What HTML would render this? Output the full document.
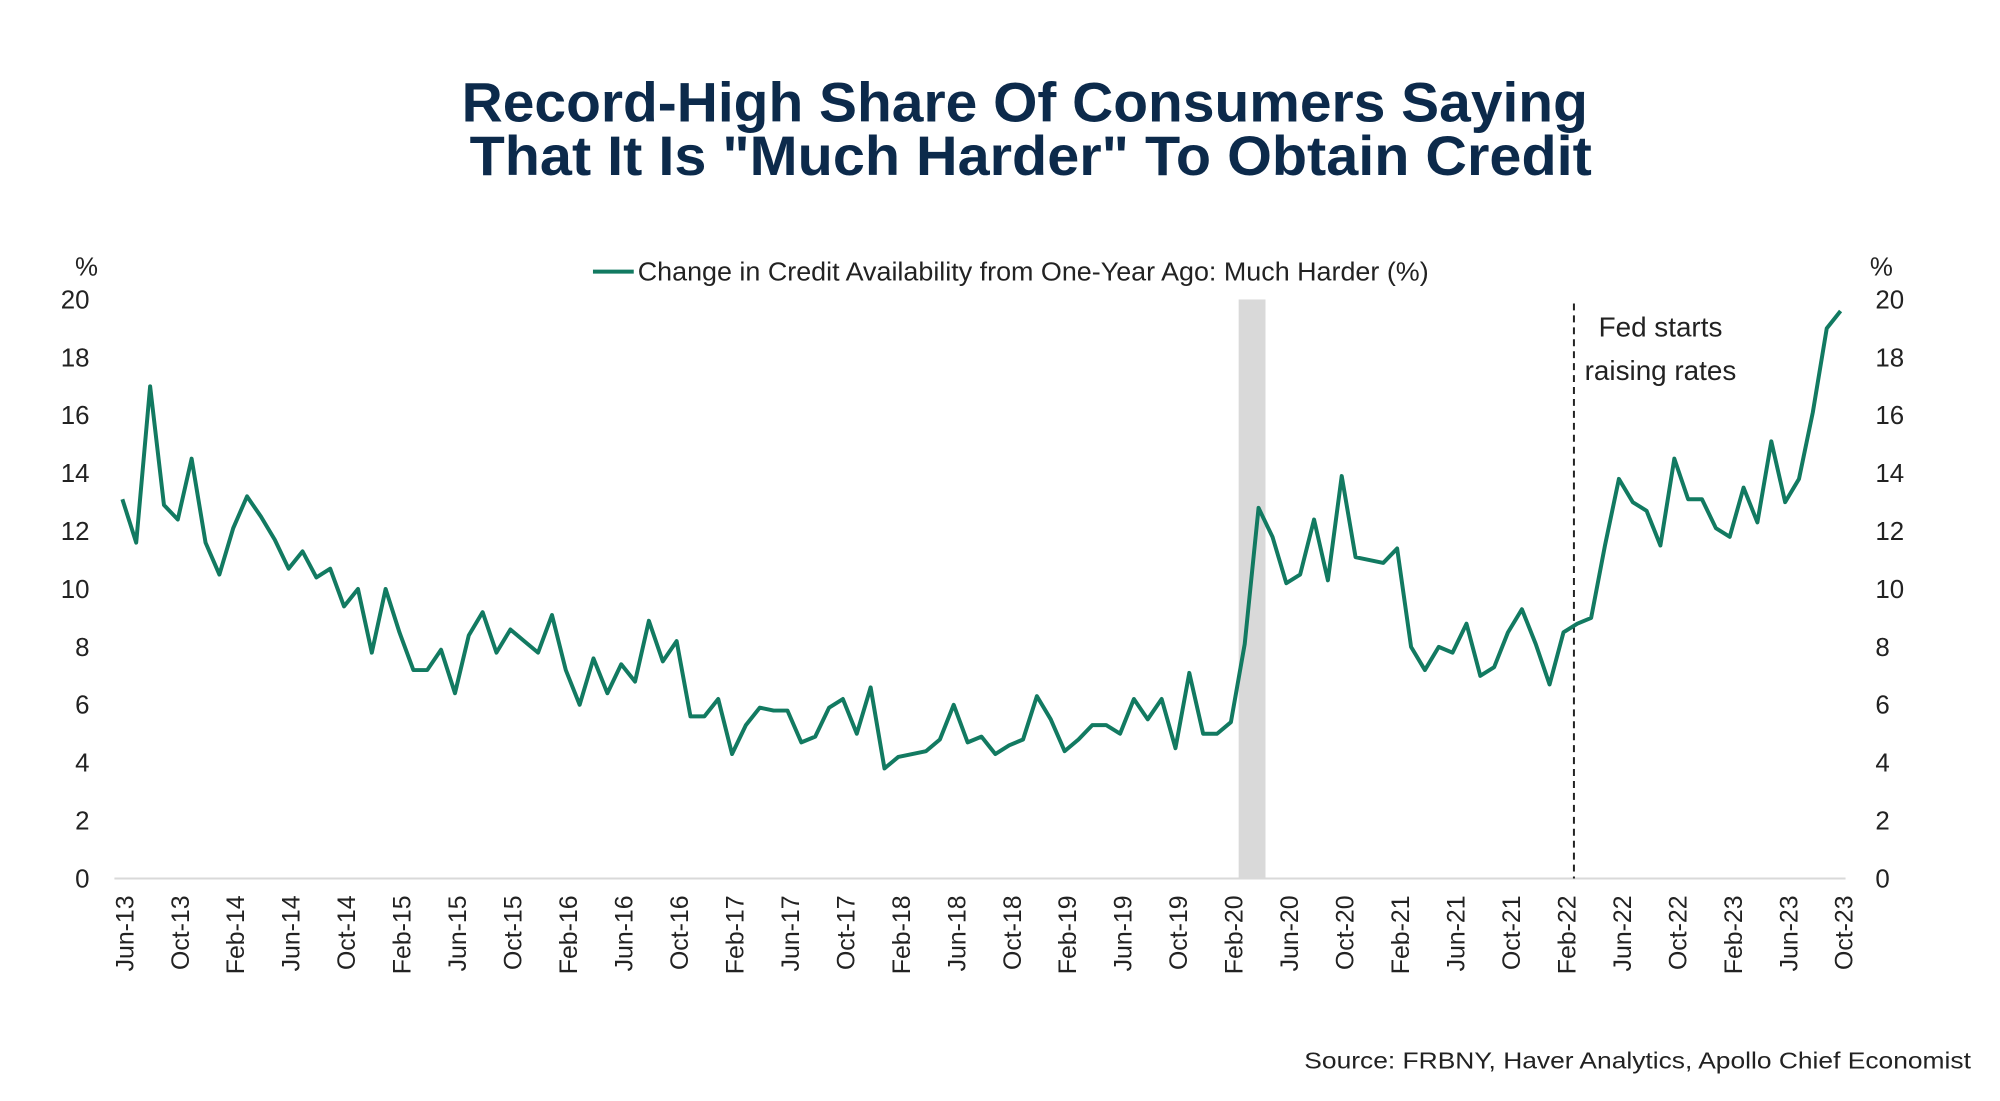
<!DOCTYPE html>
<html><head><meta charset="utf-8"><style>
html,body{margin:0;padding:0;background:#fff;}
svg{display:block;}
</style></head><body>
<svg width="2000" height="1101" viewBox="0 0 2000 1101" xmlns="http://www.w3.org/2000/svg" font-family="'Liberation Sans', sans-serif">
<g id="root" transform="scale(0.9949)">
<text x="464" y="122" font-size="56" font-weight="bold" fill="#0c2a4b" textLength="1132" lengthAdjust="spacingAndGlyphs">Record-High Share Of Consumers Saying</text>
<text x="472" y="176" font-size="56" font-weight="bold" fill="#0c2a4b" textLength="1128" lengthAdjust="spacingAndGlyphs">That It Is "Much Harder" To Obtain Credit</text>

<line x1="596" y1="273" x2="637" y2="273" stroke="#127a61" stroke-width="4"/>
<text x="641" y="282" font-size="26" fill="#222" textLength="795" lengthAdjust="spacingAndGlyphs">Change in Credit Availability from One-Year Ago: Much Harder (%)</text>

<rect x="1245" y="301" width="27" height="582" fill="#d9d9d9"/>
<line x1="115" y1="883" x2="1855" y2="883" stroke="#d9d9d9" stroke-width="2"/>
<line x1="1582" y1="305" x2="1582" y2="883" stroke="#222" stroke-width="2" stroke-dasharray="7,5"/>
<text x="1669" y="338" font-size="28" fill="#222" text-anchor="middle">Fed starts</text>
<text x="1669" y="382" font-size="28" fill="#222" text-anchor="middle">raising rates</text>

<text x="87" y="277" font-size="26" fill="#222" text-anchor="middle">%</text>
<text x="1891" y="277" font-size="26" fill="#222" text-anchor="middle">%</text>
<text x="1311" y="1074" font-size="23" fill="#222" textLength="670" lengthAdjust="spacingAndGlyphs">Source: FRBNY, Haver Analytics, Apollo Chief Economist</text>
<polyline id="ln" fill="none" stroke="#127a61" stroke-width="4" stroke-linejoin="round"/>
</g>
<script>
var ns="http://www.w3.org/2000/svg";
var root=document.getElementById('root');
function t(x,y,s,attrs){var e=document.createElementNS(ns,'text');e.setAttribute('x',x);e.setAttribute('y',y);e.textContent=s;for(var k in attrs)e.setAttribute(k,attrs[k]);root.appendChild(e);return e;}
function Y(v){return 883-v*29.1;}
for(var v=0;v<=20;v+=2){
 t(90,Y(v)+9,v,{'font-size':26,'fill':'#222','text-anchor':'end'});
 t(1885,Y(v)+9,v,{'font-size':26,'fill':'#222','text-anchor':'start'});
}
var m=['Jun','Oct','Feb'];var yr=13;
for(var i=0;i<32;i++){
 var lab=m[i%3]+'-'+(yr);
 if(i%3==1)yr++;
 var x=125+i*55.75;
 t(x+9,900,lab,{'font-size':25,'fill':'#222','text-anchor':'end','transform':'rotate(-90 '+(x+9)+' 900)'});
}
var d=[13.1,11.6,17.0,12.9,12.4,14.5,11.6,
10.5,12.1,13.2,12.5,11.7,10.7,11.3,10.4,10.7,9.4,10.0,7.8,
10.0,8.5,7.2,7.2,7.9,6.4,8.4,9.2,7.8,8.6,8.2,7.8,
9.1,7.2,6.0,7.6,6.4,7.4,6.8,8.9,7.5,8.2,5.6,5.6,
6.2,4.3,5.3,5.9,5.8,5.8,4.7,4.9,5.9,6.2,5.0,6.6,
3.8,4.2,4.3,4.4,4.8,6.0,4.7,4.9,4.3,4.6,4.8,6.3,
5.5,4.4,4.8,5.3,5.3,5.0,6.2,5.5,6.2,4.5,7.1,5.0,
5.0,5.4,8.1,12.8,11.8,10.2,10.5,12.4,10.3,13.9,11.1,11.0,
10.9,11.4,8.0,7.2,8.0,7.8,8.8,7.0,7.3,8.5,9.3,8.1,
6.7,8.5,8.8,9.0,11.5,13.8,13.0,12.7,11.5,14.5,13.1,13.1,
12.1,11.8,13.5,12.3,15.1,13.0,13.8,16.1,19.0,19.6];
var pts=d.map(function(v,i){return (123+i*(1727/(d.length-1))).toFixed(1)+','+Y(v).toFixed(1);}).join(' ');
document.getElementById('ln').setAttribute('points',pts);
</script>
</svg>
</body></html>
